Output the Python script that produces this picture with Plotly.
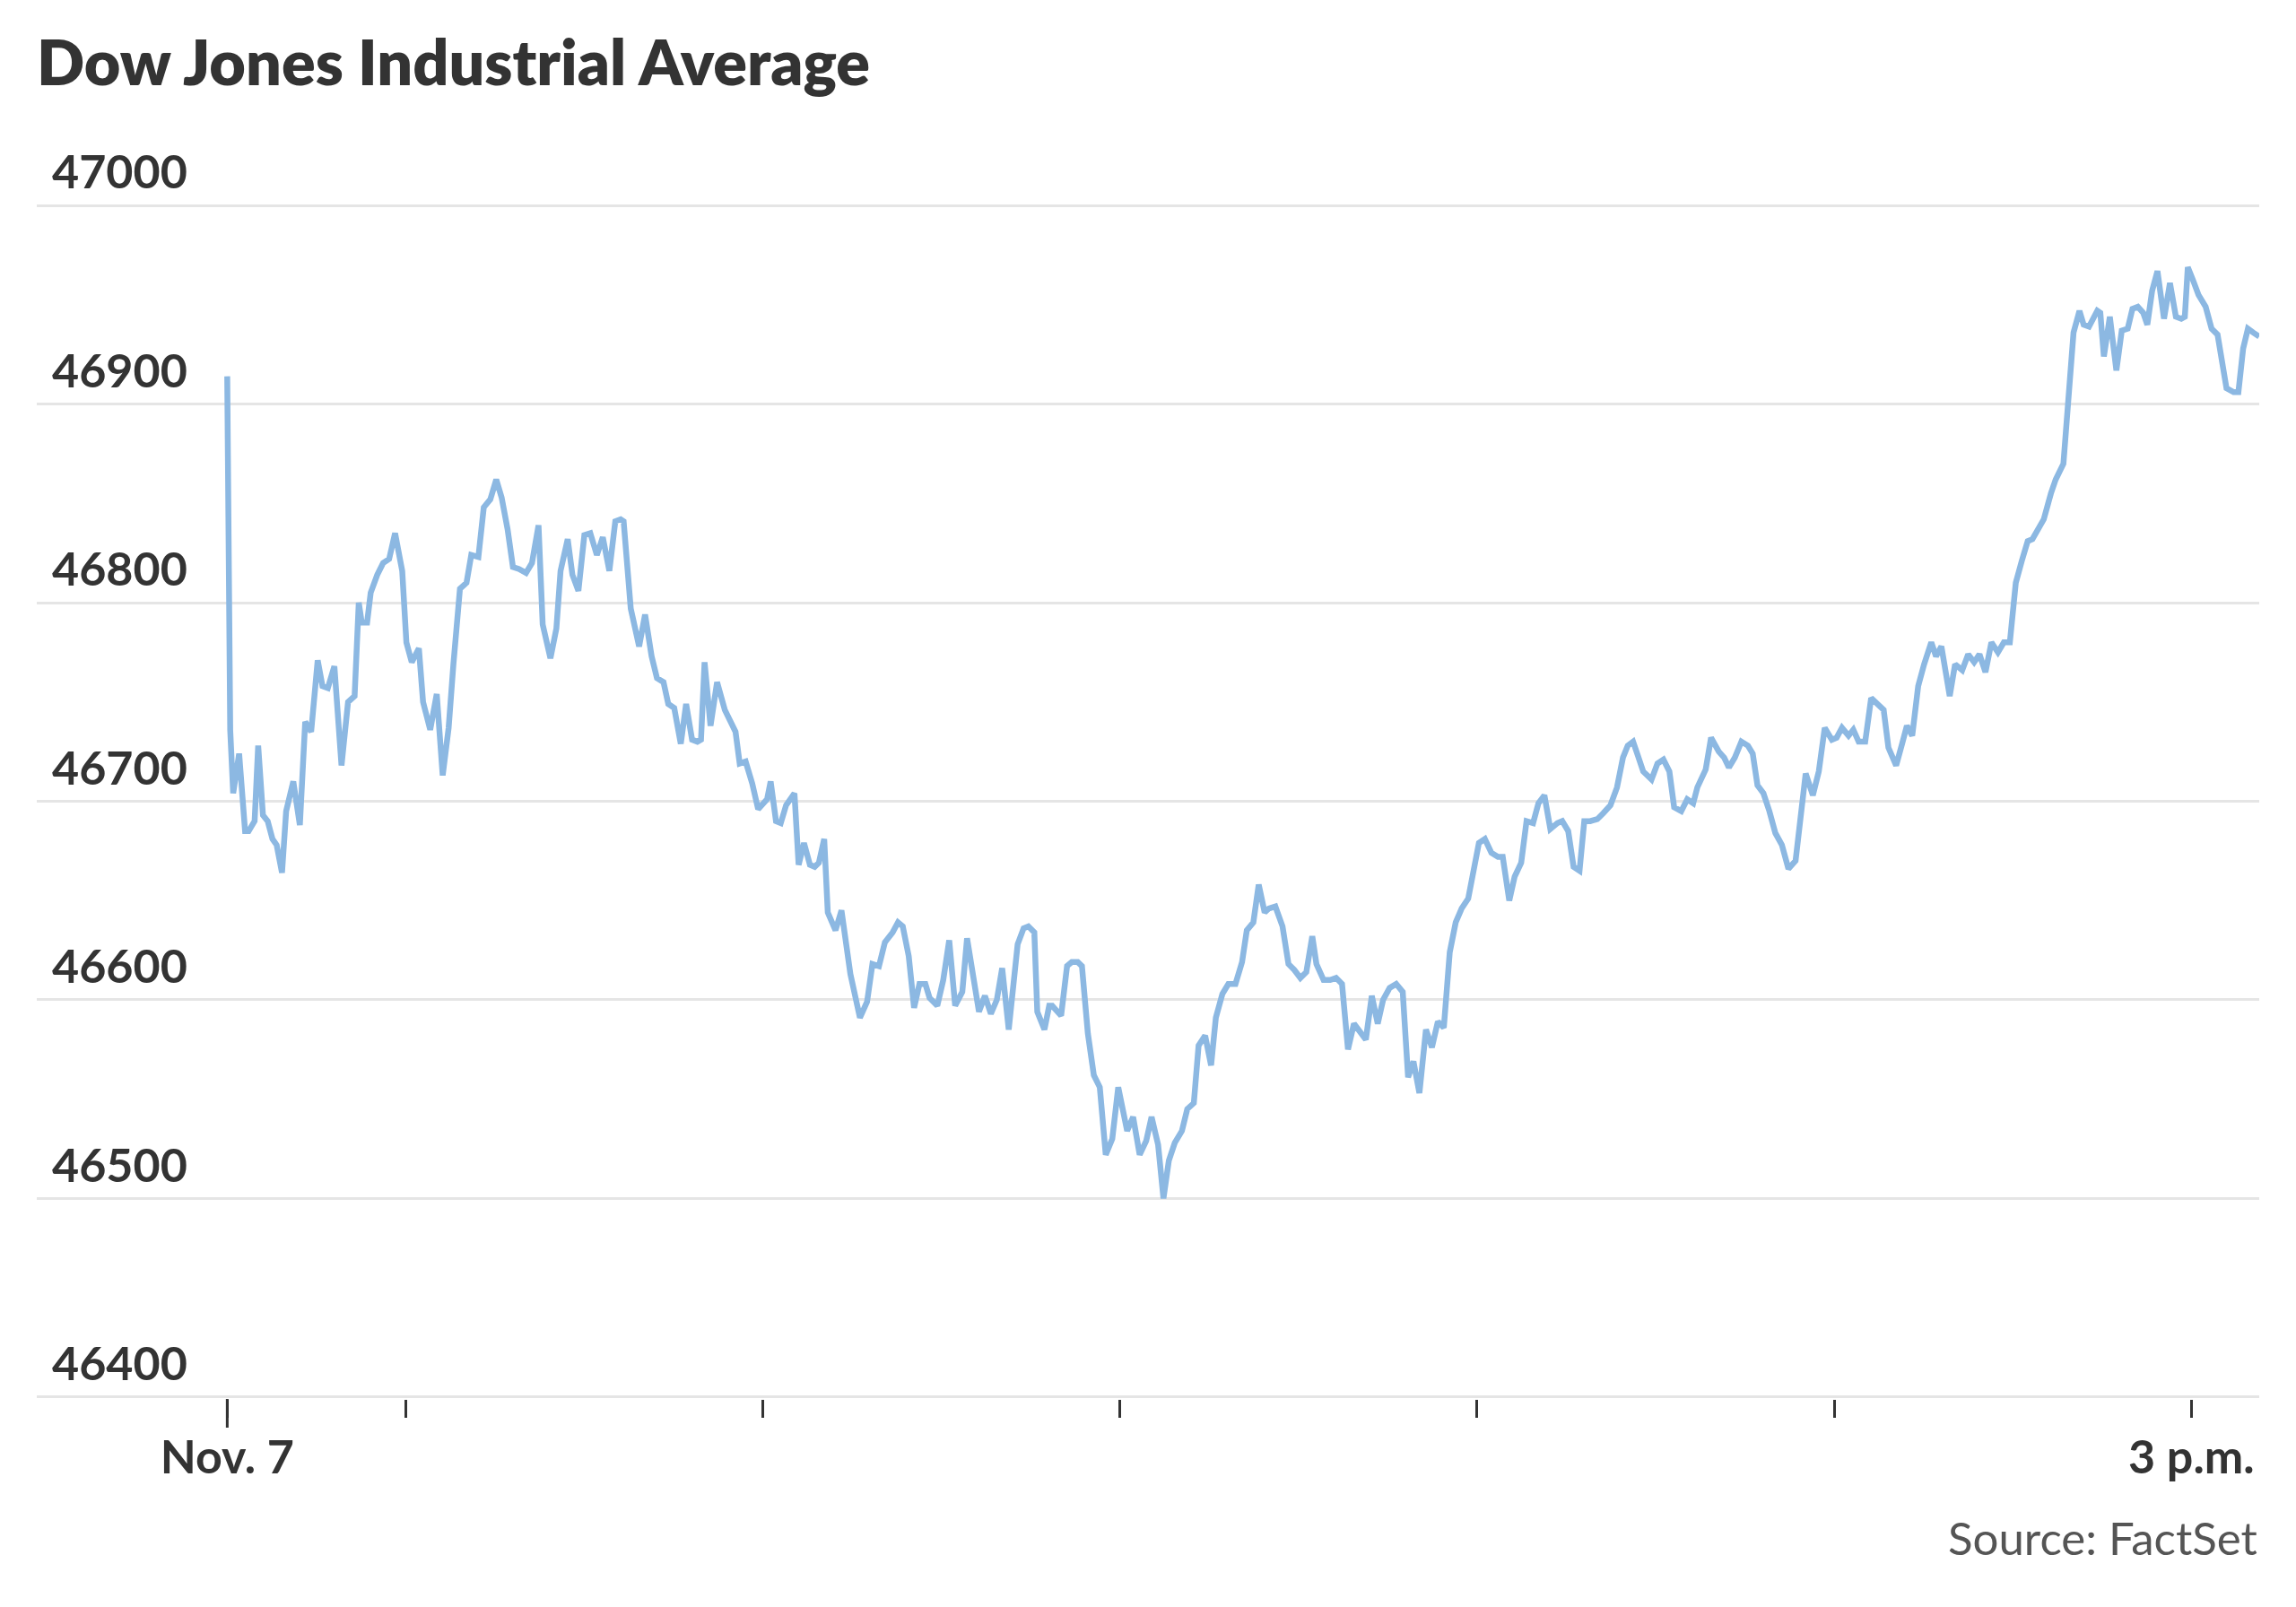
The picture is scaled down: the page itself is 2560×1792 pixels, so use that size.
import plotly.graph_objects as go

# Minutes after the 9:30 a.m. open on Nov. 7 and the Dow Jones Industrial Average level
minutes_after_open = [
    0.0, 0.5, 1.0, 2.0, 3.0, 3.6, 4.6, 5.2, 6.0, 6.8, 7.6, 8.3, 9.2, 9.9, 11.1, 12.2, 13.1, 14.1,
    15.2, 16.0, 16.9, 18.0, 19.2, 20.3, 21.4, 22.1, 22.6, 23.5, 24.1, 25.2, 26.2, 27.2, 28.2, 29.4,
    30.1, 31.0, 32.2, 32.9, 34.1, 35.2, 36.2, 37.2, 38.0, 39.1, 40.2, 41.0, 42.2, 43.1, 44.2, 45.2,
    46.1, 47.1, 48.0, 49.0, 50.2, 51.2, 52.3, 53.0, 54.3, 55.3, 56.0, 57.2, 58.0, 59.0, 60.0, 61.0,
    62.1, 63.1, 64.2, 65.2, 66.1, 66.6, 67.8, 69.2, 70.2, 71.3, 72.2, 73.3, 74.1, 75.1, 76.2, 77.1,
    78.1, 79.0, 79.6, 80.2, 81.2, 82.3, 83.6, 84.4, 85.4, 86.1, 87.1, 88.2, 89.2, 90.7, 91.3, 92.2,
    93.0, 93.9, 95.3, 96.0, 96.9, 97.9, 98.7, 99.4, 100.3, 100.9, 102.2, 103.2, 104.7, 106.3, 107.5,
    108.4, 109.5, 110.5, 111.8, 112.7, 113.5, 114.5, 115.4, 116.3, 117.3, 118.0, 119.3, 120.3, 121.3,
    122.3, 123.5, 124.3, 125.3, 126.3, 127.3, 128.3, 129.3, 130.2, 131.3, 132.8, 133.8, 134.6, 135.6,
    136.1, 137.3, 138.1, 138.6, 140.1, 141.1, 141.9, 142.9, 143.6, 144.6, 145.6, 146.6, 147.6, 148.7,
    149.7, 151.2, 152.2, 153.3, 154.4, 155.3, 156.4, 157.3, 158.2, 159.2, 160.4, 161.3, 162.4, 163.2,
    164.3, 165.3, 166.1, 167.2, 168.2, 169.4, 170.5, 171.3, 172.4, 173.3, 174.3, 175.0, 176.1, 177.3,
    178.3, 179.3, 180.3, 181.3, 182.3, 183.0, 184.2, 185.3, 186.3, 187.3, 188.3, 189.3, 190.3, 191.3,
    192.3, 193.3, 194.2, 195.3, 196.4, 197.5, 198.4, 199.3, 200.3, 201.4, 202.4, 203.4, 204.4, 205.4,
    206.4, 207.4, 208.5, 209.3, 210.3, 211.3, 212.4, 213.5, 214.3, 215.4, 216.3, 217.4, 218.3, 219.4,
    220.3, 221.3, 222.3, 223.5, 224.3, 225.3, 226.2, 227.2, 228.0, 229.0, 230.2, 231.2, 232.4, 233.5,
    234.5, 235.3, 236.2, 237.0, 237.9, 239.3, 240.3, 241.3, 242.3, 243.1, 244.3, 245.3, 246.3, 247.0,
    248.4, 249.3, 250.6, 251.5, 252.3, 253.3, 254.4, 255.5, 256.3, 257.1, 258.1, 259.1, 260.1, 261.2,
    262.3, 263.5, 264.3, 265.2, 266.4, 267.4, 268.4, 269.6, 270.4, 271.3, 272.4, 273.2, 274.1, 275.2,
    276.2, 277.0, 278.3, 279.1, 280.4, 281.4, 282.2, 283.1, 284.1, 285.1, 286.3, 287.1, 288.0, 289.4,
    290.3, 291.5, 292.5, 293.5, 294.4, 295.4, 296.4, 297.5, 298.5, 299.5, 300.5, 301.5, 302.5, 303.3,
    304.3, 305.2, 306.4, 307.2, 308.5, 309.4, 310.2, 311.2, 311.9, 312.8, 314.2, 314.7, 315.3, 316.3,
    317.4, 318.3, 319.3, 320.1, 321.0, 321.9, 322.6, 323.4, 324.3, 325.4, 326.4, 327.4, 328.3, 328.9,
    329.4, 330.2, 331.2, 332.4, 333.4, 334.4, 335.9, 337.1, 337.9, 338.7, 339.5, 340.4, 341.4,
]

dow_values = [
    46914, 46736, 46704, 46724, 46685, 46685, 46690, 46728, 46693, 46690, 46681, 46678, 46664, 46695,
    46710, 46688, 46740, 46735, 46771, 46758, 46757, 46768, 46718, 46750, 46753, 46800, 46790, 46790,
    46805, 46814, 46820, 46822, 46835, 46816, 46780, 46770, 46777, 46750, 46736, 46754, 46713, 46737,
    46769, 46807, 46810, 46824, 46823, 46848, 46852, 46862, 46853, 46837, 46818, 46817, 46815, 46820,
    46839, 46789, 46772, 46787, 46816, 46832, 46814, 46806, 46834, 46835, 46824, 46833, 46816, 46841,
    46842, 46841, 46797, 46778, 46794, 46773, 46762, 46760, 46749, 46747, 46729, 46749, 46731, 46730,
    46731, 46770, 46738, 46760, 46746, 46741, 46735, 46719, 46720, 46709, 46696, 46701, 46710, 46690,
    46689, 46698, 46704, 46668, 46679, 46668, 46667, 46669, 46681, 46644, 46635, 46645, 46613, 46591,
    46599, 46618, 46617, 46629, 46634, 46639, 46637, 46622, 46596, 46608, 46608, 46601, 46597, 46610,
    46630, 46597, 46604, 46631, 46612, 46594, 46602, 46593, 46600, 46616, 46585, 46628, 46636, 46637,
    46634, 46594, 46585, 46597, 46597, 46592, 46617, 46619, 46619, 46617, 46583, 46562, 46556, 46522,
    46530, 46556, 46534, 46541, 46522, 46529, 46541, 46527, 46500, 46519, 46528, 46534, 46545, 46548,
    46577, 46582, 46567, 46591, 46603, 46608, 46608, 46619, 46635, 46639, 46658, 46644, 46646, 46647,
    46637, 46618, 46615, 46611, 46614, 46632, 46618, 46610, 46610, 46611, 46608, 46575, 46588, 46584,
    46580, 46602, 46588, 46600, 46606, 46608, 46604, 46561, 46569, 46553, 46585, 46576, 46589, 46586,
    46624, 46639, 46646, 46651, 46663, 46679, 46681, 46674, 46672, 46672, 46650, 46662, 46669, 46690,
    46689, 46699, 46703, 46686, 46689, 46690, 46685, 46667, 46665, 46690, 46690, 46691, 46694, 46698,
    46707, 46722, 46728, 46730, 46723, 46715, 46711, 46719, 46721, 46715, 46697, 46695, 46701, 46699,
    46707, 46716, 46732, 46725, 46722, 46717, 46722, 46730, 46728, 46724, 46708, 46704, 46695, 46684,
    46678, 46666, 46670, 46691, 46714, 46703, 46715, 46737, 46731, 46732, 46737, 46733, 46736, 46730,
    46730, 46752, 46750, 46746, 46727, 46718, 46729, 46738, 46733, 46758, 46769, 46780, 46773, 46778,
    46753, 46769, 46766, 46774, 46770, 46774, 46765, 46780, 46775, 46780, 46780, 46810, 46821, 46831,
    46832, 46838, 46842, 46855, 46862, 46870, 46901, 46936, 46947, 46940, 46939, 46947, 46946, 46924,
    46944, 46917, 46937, 46938, 46948, 46949, 46946, 46940, 46957, 46967, 46943, 46961, 46944, 46943,
    46944, 46969, 46963, 46955, 46949, 46938, 46935, 46908, 46906, 46906, 46928, 46938, 46936, 46934,
]

x_tick_minutes = [0, 30, 90, 150, 210, 270, 330]
x_tick_labels = ["Nov. 7", "", "", "", "", "", "3 p.m."]
y_tick_values = [46400, 46500, 46600, 46700, 46800, 46900, 47000]
y_tick_labels = ["46400", "46500", "46600", "46700", "46800", "46900", "47000"]

title_text = "Dow Jones Industrial Average"
source_text = "Source: FactSet"

W, H = 2560, 1792
M_L, M_R, M_T, M_B = 41, 41, 227, 232
plot_h = H - M_T - M_B

FONT = "Lato, 'Open Sans', sans-serif"
DARK = "#333333"

fig = go.Figure()
fig.add_trace(go.Scatter(
    x=minutes_after_open, y=dow_values, mode="lines",
    line=dict(color="#8cb8e2", width=6.5, shape="linear"),
    hoverinfo="skip", showlegend=False,
))

fig.update_layout(
    width=W, height=H,
    margin=dict(l=M_L, r=M_R, t=M_T, b=M_B, pad=0),
    paper_bgcolor="white", plot_bgcolor="white",
    showlegend=False,
    title=dict(
        text=title_text, xref="container", yref="container",
        x=M_L / W, xanchor="left", y=1 - 70 / H, yanchor="middle",
        font=dict(family=FONT, size=70, color=DARK, weight=800),
    ),
    xaxis=dict(
        range=[-32, 341.4], tickmode="array", tickvals=x_tick_minutes, ticktext=x_tick_labels,
        ticks="outside", ticklen=20, tickwidth=3, tickcolor=DARK,
        showgrid=False, zeroline=False, showline=False,
        tickfont=dict(family=FONT, size=52, color=DARK, weight=700),
        fixedrange=True,
    ),
    yaxis=dict(
        range=[46399, 47001], tickmode="array", tickvals=y_tick_values, ticktext=y_tick_labels,
        ticks="", showgrid=True, gridcolor="#e5e5e5", gridwidth=3,
        zeroline=False, showline=False,
        ticklabelposition="inside", ticklabelshift=-37, ticklabelstandoff=14,
        ticklabeloverflow="allow",
        tickfont=dict(family=FONT, size=52, color=DARK, weight=700),
        fixedrange=True,
    ),
)

# Longer tick for the opening ("Nov. 7")
fig.add_shape(
    type="line", xref="x", yref="paper",
    x0=x_tick_minutes[0], x1=x_tick_minutes[0], y0=0, y1=-32 / plot_h,
    line=dict(color=DARK, width=3), layer="above",
)

fig.add_annotation(
    text=source_text, xref="paper", yref="paper",
    x=1, xanchor="right", y=-(1714 - (H - M_B)) / plot_h, yanchor="middle",
    showarrow=False, font=dict(family=FONT, size=51, color="#555555"),
)

fig.write_html("out.html", config={"displayModeBar": False})
